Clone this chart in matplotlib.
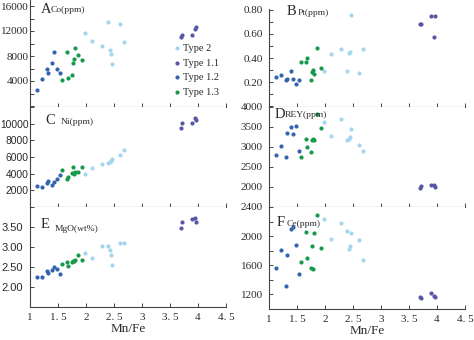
import matplotlib
matplotlib.use('Agg')
import matplotlib.pyplot as plt
from matplotlib.ticker import MultipleLocator, FormatStrFormatter

W, H = 474, 340

# Mn/Fe per sample group
x_t2 = [1.99, 2.11, 2.29, 2.40, 2.42, 2.44, 2.47, 2.60, 2.68]
x_t11 = [3.69, 3.71, 3.90, 3.95, 3.97]
x_t12 = [1.12, 1.22, 1.31, 1.33, 1.39, 1.43, 1.49, 1.53]
x_t13 = [1.58, 1.66, 1.68, 1.75, 1.77, 1.79, 1.80, 1.85, 1.92]

# A  Co (ppm)
co_t2 = [11730, 10400, 9650, 13390, 9010, 8320, 6720, 13070, 10190]
co_t11 = [11040, 11360, 11410, 12370, 12590]
co_t12 = [2560, 4320, 5870, 5330, 6830, 8640, 5870, 5330]
co_t13 = [4210, 8590, 4480, 4910, 6880, 7470, 9280, 8110, 7360]

# B  Pt (ppm)
pt_t2 = [0.294, 0.433, 0.472, 0.292, 0.444, 0.447, 0.756, 0.275, 0.472]
pt_t11 = [0.683, 0.683, 0.747, 0.575, 0.747]
pt_t12 = [0.244, 0.256, 0.219, 0.228, 0.292, 0.228, 0.181, 0.217]
pt_t13 = [0.367, 0.364, 0.400, 0.217, 0.283, 0.297, 0.267, 0.486, 0.314]

# C  Ni (ppm)
ni_t2 = [3920, 4640, 5200, 5240, 5360, 5480, 5760, 6240, 6800]
ni_t11 = [9440, 10080, 10080, 10680, 10480]
ni_t12 = [2560, 2440, 2880, 3080, 2600, 3000, 3400, 3800]
ni_t13 = [4440, 3400, 3640, 4080, 4760, 3960, 4160, 4240, 4840]

# D  REY (ppm)
rey_t2 = [3616, 3268, 3707, 3168, 3210, 3243, 3459, 3052, 2895]
rey_t11 = [1975, 2016, 2041, 2058, 2000]
rey_t12 = [2804, 3027, 2762, 3350, 3500, 3326, 3525, 2911]
rey_t13 = [2754, 3202, 2994, 2870, 3168, 3193, 3168, 3815, 3475]

# E  MgO (wt%)
mgo_t2 = [2.86, 2.72, 3.02, 3.02, 2.92, 2.81, 2.55, 3.11, 3.11]
mgo_t11 = [3.47, 3.63, 3.69, 3.73, 3.63]
mgo_t12 = [2.24, 2.24, 2.40, 2.35, 2.43, 2.50, 2.44, 2.33]
mgo_t13 = [2.57, 2.62, 2.53, 2.62, 2.64, 2.66, 2.67, 2.79, 2.67]

# F  Ce (ppm)
ce_t2 = [2240, 1964, 2182, 2071, 1827, 1858, 2044, 1951, 1671]
ce_t11 = [1170, 1152, 1214, 1183, 1170]
ce_t12 = [1556, 1809, 1312, 1742, 2098, 2124, 1880, 1485]
ce_t13 = [1644, 2062, 1702, 1556, 1858, 1547, 2040, 2293, 1831]

labels = ['Type 2', 'Type 1.1', 'Type 1.2', 'Type 1.3']
colors = ['#a6d5ef', '#5757a6', '#3464ad', '#16994a']
xs = [x_t2, x_t11, x_t12, x_t13]
xtick_vals = [1, 1.5, 2, 2.5, 3, 3.5, 4, 4.5]
xtick_text = ['1', '1. 5', '2', '2. 5', '3', '3. 5', '4', '4. 5']

SERIF = 'Liberation Serif'
SANS = 'Liberation Sans'
TXT = '#2b2b2b'

fig = plt.figure(figsize=(W / 100, H / 100), dpi=100)


def make_axes(x0, y0, x1, y1):
    return fig.add_axes([x0 / W, 1 - y1 / H, (x1 - x0) / W, (y1 - y0) / H])


def panel(box, ys, ylim, yticks, yminor, fmt, yfont, ypad, ysize, letter,
          name, pos_letter, pos_name, bottom_labels=False):
    ax = make_axes(*box)
    for x, y, c, lab in zip(xs, ys, colors, labels):
        ax.scatter(x, y, s=9, color=c, linewidths=0, label=lab, zorder=3)
    ax.set_xlim(1, 4.5)
    ax.set_ylim(*ylim)
    for s in ['top', 'right']:
        ax.spines[s].set_visible(False)
    for s in ['left', 'bottom']:
        ax.spines[s].set_linewidth(0.8)
        ax.spines[s].set_color('#444444')
    ax.set_xticks(xtick_vals)
    if bottom_labels:
        ax.set_xticklabels(xtick_text, fontfamily=SERIF, fontsize=8, color=TXT)
        ax.set_xlabel('Mn/Fe', fontfamily=SERIF, fontsize=9.5, color=TXT,
                      labelpad=1)
    else:
        ax.set_xticklabels([])
    ax.set_yticks(yticks)
    ax.yaxis.set_major_formatter(FormatStrFormatter(fmt))
    ax.yaxis.set_minor_locator(MultipleLocator(yminor))
    for lab in ax.get_yticklabels():
        lab.set_fontfamily(yfont)
    ax.tick_params(axis='both', which='both', direction='in', length=3,
                   width=0.7, color='#444444')
    ax.tick_params(axis='y', labelsize=ysize, pad=ypad, labelcolor=TXT)
    ax.tick_params(axis='x', pad=4)
    ax.text(*pos_letter, letter, transform=ax.transAxes, fontfamily=SERIF,
            fontsize=10.5, color=TXT, va='center')
    ax.text(*pos_name, name, transform=ax.transAxes, fontfamily=SERIF,
            fontsize=6.8, color=TXT, va='center')
    return ax


axA = panel((30, 0, 226, 107), [co_t2, co_t11, co_t12, co_t13], (-160, 16960),
            [4000, 8000, 12000, 16000], 2000, '%d', SERIF, 1, 8,
            'A', 'Co(ppm)', (0.056, 0.915), (0.107, 0.91))
axA.legend(loc='upper left', bbox_to_anchor=(0.70, 0.63), frameon=False,
           prop={'family': SERIF, 'size': 7.5}, labelspacing=0.5,
           handletextpad=0.1, handlelength=1.0, borderaxespad=0,
           markerscale=1.0, labelcolor=TXT)

panel((30, 107, 226, 207), [ni_t2, ni_t11, ni_t12, ni_t13], (0, 12000),
      [2000, 4000, 6000, 8000, 10000], 2000, '%d', SANS, 1, 7.4,
      'C', 'Ni(ppm)', (0.077, 0.86), (0.158, 0.845))

panel((30, 207, 226, 307), [mgo_t2, mgo_t11, mgo_t12, mgo_t13], (1.5, 4.0),
      [2.0, 2.5, 3.0, 3.5], 0.5, '%.2f', SANS, 5, 8,
      'E', 'MgO(wt%)', (0.056, 0.825), (0.128, 0.78), bottom_labels=True)

panel((269, 9, 465, 107), [pt_t2, pt_t11, pt_t12, pt_t13], (-0.008, 0.808),
      [0.2, 0.4, 0.6, 0.8], 0.1, '%.2f', SERIF, 4.5, 8,
      'B', 'Pt(ppm)', (0.092, 0.97), (0.148, 0.955))

panel((269, 107, 465, 207), [rey_t2, rey_t11, rey_t12, rey_t13], (1500, 4000),
      [2000, 2500, 3000, 3500, 4000], 500, '%d', SERIF, 4.5, 8,
      'D', 'REY(ppm)', (0.028, 0.93), (0.078, 0.92))

panel((269, 207, 465, 309), [ce_t2, ce_t11, ce_t12, ce_t13], (1000, 2400),
      [1200, 1600, 2000, 2400], 200, '%d', SERIF, 4.5, 8,
      'F', 'Ce(ppm)', (0.041, 0.848), (0.092, 0.83), bottom_labels=True)

fig.savefig('out.png', dpi=100)
